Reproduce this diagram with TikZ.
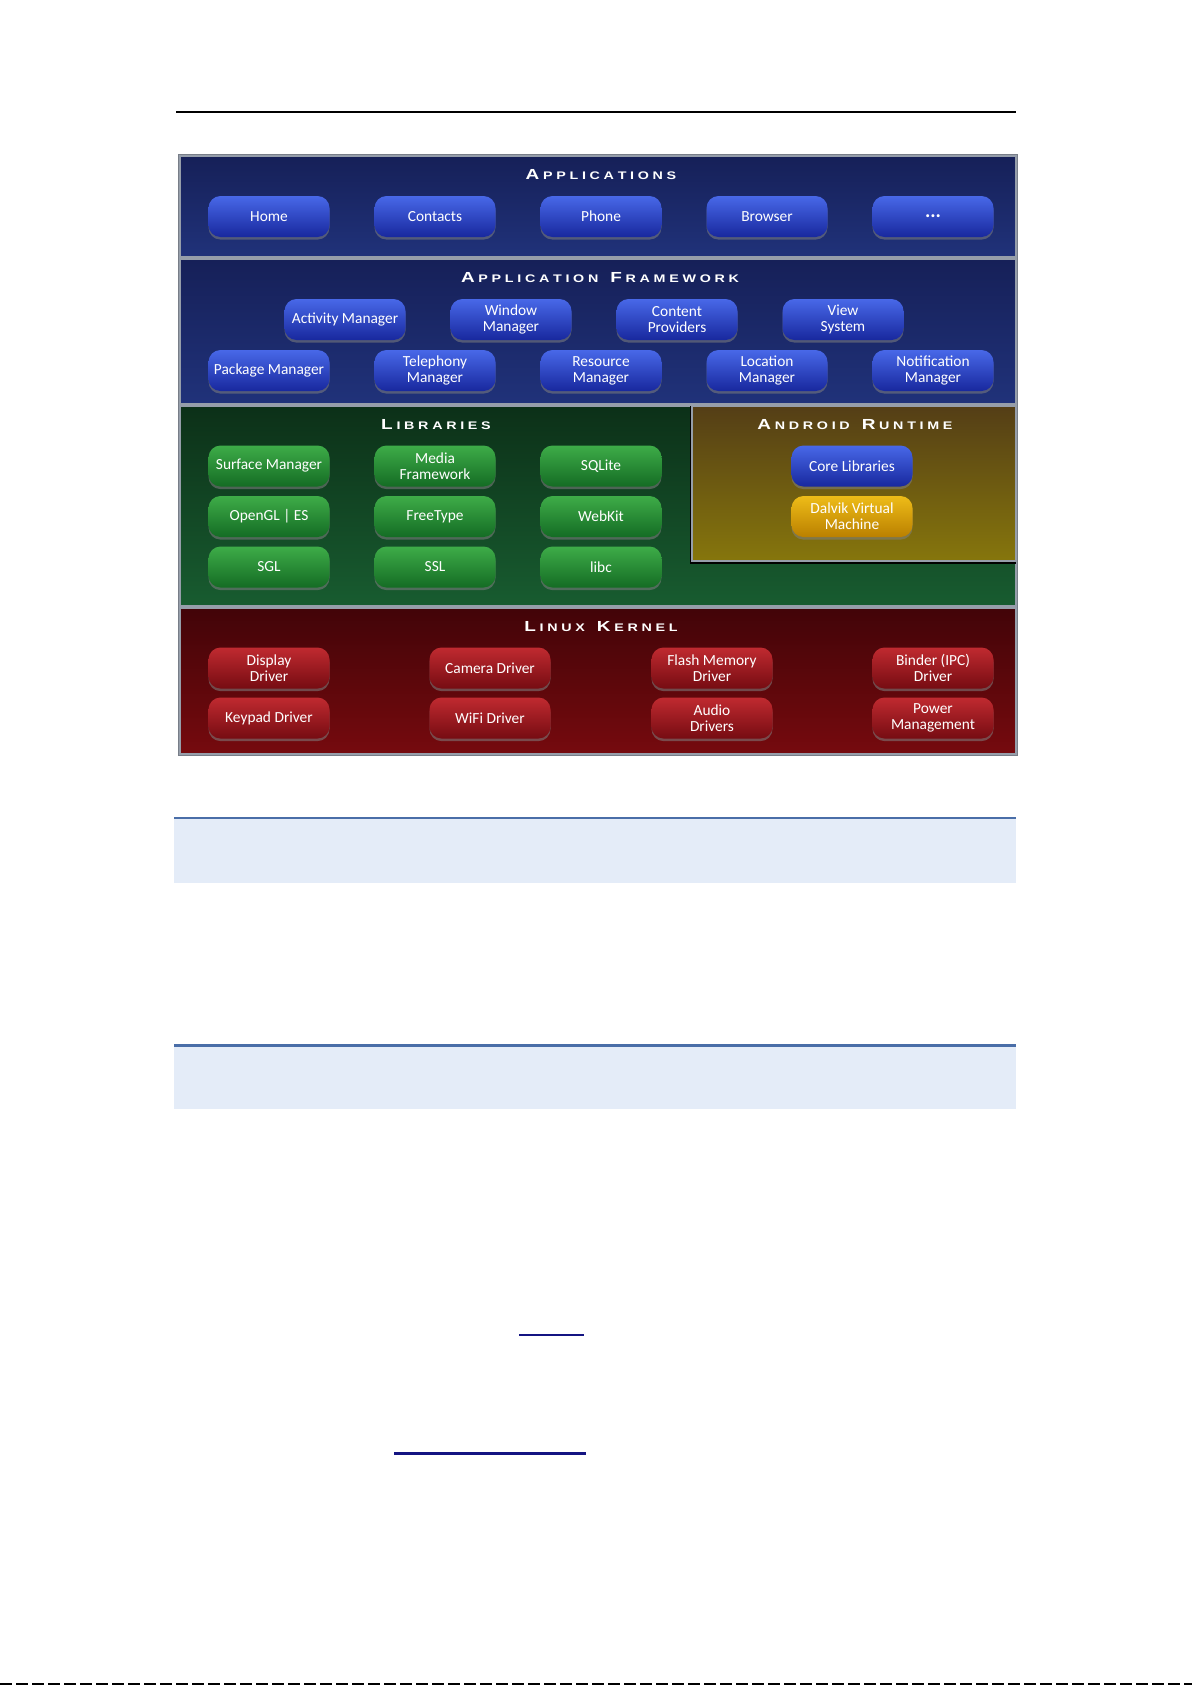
\documentclass[tikz,border=0pt]{standalone}
\usepackage{fontspec}
\setmainfont{Carlito}
\newfontfamily\ttlfont[FakeStretch=1.3]{Liberation Sans Bold}
\usetikzlibrary{shadows}
\makeatletter
\newcommand\lskern{1.85pt}
\newcommand\ttlword[2]{{\fontsize{7.3}{8}\selectfont #1}\kern\lskern{\fontsize{5.5}{6}\selectfont\@tfor\@ch:=#2\do{\@ch\kern\lskern}\unkern}}
\makeatother
\newcommand\wsp{\hspace{6pt}}
\definecolor{appT}{RGB}{22,32,88}
\definecolor{appB}{RGB}{32,50,122}
\definecolor{libT}{RGB}{12,48,24}
\definecolor{libB}{RGB}{24,92,48}
\definecolor{arT}{RGB}{84,62,22}
\definecolor{arB}{RGB}{134,118,12}
\definecolor{kerT}{RGB}{66,4,8}
\definecolor{kerB}{RGB}{118,10,14}
\definecolor{bluT}{RGB}{72,104,232}
\definecolor{bluB}{RGB}{24,40,158}
\definecolor{grnT}{RGB}{62,172,72}
\definecolor{grnB}{RGB}{20,108,36}
\definecolor{ylwT}{RGB}{238,188,24}
\definecolor{ylwB}{RGB}{186,128,0}
\definecolor{redT}{RGB}{192,42,48}
\definecolor{redB}{RGB}{118,12,18}
\definecolor{frameGray}{RGB}{150,158,170}
\definecolor{barFill}{RGB}{228,236,248}
\definecolor{barLine}{RGB}{74,110,168}
\definecolor{linkBlue}{RGB}{20,20,130}
\tikzset{
  layer/.style={draw=frameGray, line width=1pt},
  btn/.style={rounded corners=6pt, minimum width=60.5pt, minimum height=20.5pt,
    inner sep=0pt, align=center, text=white, font=\fontsize{7.7}{7.9}\selectfont,
    drop shadow={shadow xshift=0pt, shadow yshift=-1.3pt, opacity=0.55}},
  bluebtn/.style={btn, top color=bluT, bottom color=bluB},
  grnbtn/.style={btn, top color=grnT, bottom color=grnB},
  ylwbtn/.style={btn, top color=ylwT, bottom color=ylwB},
  redbtn/.style={btn, top color=redT, bottom color=redB},
  ttl/.style={text=white, font=\ttlfont, inner sep=0pt},
  bar/.style={fill=barFill},
}
\begin{document}
\begin{tikzpicture}[x=0.5pt, y=-0.5pt]
\useasboundingbox (0,0) rectangle (1192,1686);
\fill[white] (0,0) rectangle (1192,1686);
% top rule
\coordinate (ruleL) at (176,112);
\coordinate (ruleR) at (1016,112);
\draw[line width=1.2pt, black] (ruleL) -- (ruleR);
% frame
\fill[frameGray!80!black] (178,154) rectangle (1018,756);
\path[layer, top color=appT, bottom color=appB] (180,156) rectangle (1016,257);
\path[layer, top color=appT, bottom color=appB] (180,259) rectangle (1016,404);
\path[layer, top color=libT, bottom color=libB] (180,406) rectangle (1016,606);
\draw[black, line width=1.2pt] (691,406) -- (691,563) -- (1016,563);
\path[layer, top color=arT, bottom color=arB] (692,406) rectangle (1016,561);
\path[layer, top color=kerT, bottom color=kerB] (180,608) rectangle (1016,754);
% titles
\node[ttl] (tApps) at (601,175) {\ttlword{A}{PPLICATIONS}};
\node[ttl] (tFw) at (600,278) {\ttlword{A}{PPLICATION}\wsp\ttlword{F}{RAMEWORK}};
\node[ttl] (tLib) at (436,425) {\ttlword{L}{IBRARIES}};
\node[ttl] (tAR) at (855,425) {\ttlword{A}{NDROID}\wsp\ttlword{R}{UNTIME}};
\node[ttl] (tKer) at (601,627) {\ttlword{L}{INUX}\wsp\ttlword{K}{ERNEL}};
% applications
\node[bluebtn] (home) at (269,216.5) {Home};
\node[bluebtn] (contacts) at (435,216.5) {Contacts};
\node[bluebtn] (phone) at (601,216.5) {Phone};
\node[bluebtn] (browser) at (767,216.5) {Browser};
\node[bluebtn] (more) at (933,216.5) {{\fontsize{10}{10}\selectfont\bfseries ...}};
% framework
\node[bluebtn] (activity) at (345,319.5) {Activity Manager};
\node[bluebtn] (window) at (511,319.5) {Window\\Manager};
\node[bluebtn] (content) at (677,319.5) {Content\\Providers};
\node[bluebtn] (view) at (843,319.5) {View\\System};
\node[bluebtn] (package) at (269,370.5) {Package Manager};
\node[bluebtn] (telephony) at (435,370.5) {Telephony\\Manager};
\node[bluebtn] (resource) at (601,370.5) {Resource\\Manager};
\node[bluebtn] (location) at (767,370.5) {Location\\Manager};
\node[bluebtn] (notification) at (933,370.5) {Notification\\Manager};
% libraries
\node[grnbtn] (surface) at (269,466) {Surface Manager};
\node[grnbtn] (media) at (435,466) {Media\\Framework};
\node[grnbtn] (sqlite) at (601,466) {SQLite};
\node[grnbtn] (opengl) at (269,516.5) {OpenGL | ES};
\node[grnbtn] (freetype) at (435,516.5) {FreeType};
\node[grnbtn] (webkit) at (601,516.5) {WebKit};
\node[grnbtn] (sgl) at (269,567) {SGL};
\node[grnbtn] (ssl) at (435,567) {SSL};
\node[grnbtn] (libc) at (601,567) {libc};
% android runtime
\node[bluebtn] (core) at (852,466) {Core Libraries};
\node[ylwbtn] (dalvik) at (852,516.5) {Dalvik Virtual\\Machine};
% kernel
\node[redbtn] (display) at (269,668) {Display\\Driver};
\node[redbtn] (camera) at (490,668) {Camera Driver};
\node[redbtn] (flash) at (712,668) {Flash Memory\\Driver};
\node[redbtn] (binder) at (933,668) {Binder (IPC)\\Driver};
\node[redbtn] (keypad) at (269,718) {Keypad Driver};
\node[redbtn] (wifi) at (490,718) {WiFi Driver};
\node[redbtn] (audio) at (712,718) {Audio\\Drivers};
\node[redbtn] (power) at (933,718) {Power\\Management};
% blue bars
\fill[bar] (174,817) rectangle (1016,883);
\draw[barLine, line width=1pt] (174,817.5) -- (1016,817.5);
\fill[bar] (174,1044) rectangle (1016,1109);
\draw[barLine, line width=1.5pt] (174,1045) -- (1016,1045);
% underlines
\coordinate (u1a) at (519,1335);
\coordinate (u1b) at (584,1335);
\draw[linkBlue, line width=1pt] (u1a) -- (u1b);
\coordinate (u2a) at (394,1453);
\coordinate (u2b) at (586,1453);
\draw[linkBlue, line width=1.5pt] (u2a) -- (u2b);
% bottom dashed line
\coordinate (dashL) at (0,1684);
\coordinate (dashR) at (1192,1684);
\draw[black, line width=1pt, dash pattern=on 6pt off 2pt] (dashL) -- (dashR);
\end{tikzpicture}
\end{document}
